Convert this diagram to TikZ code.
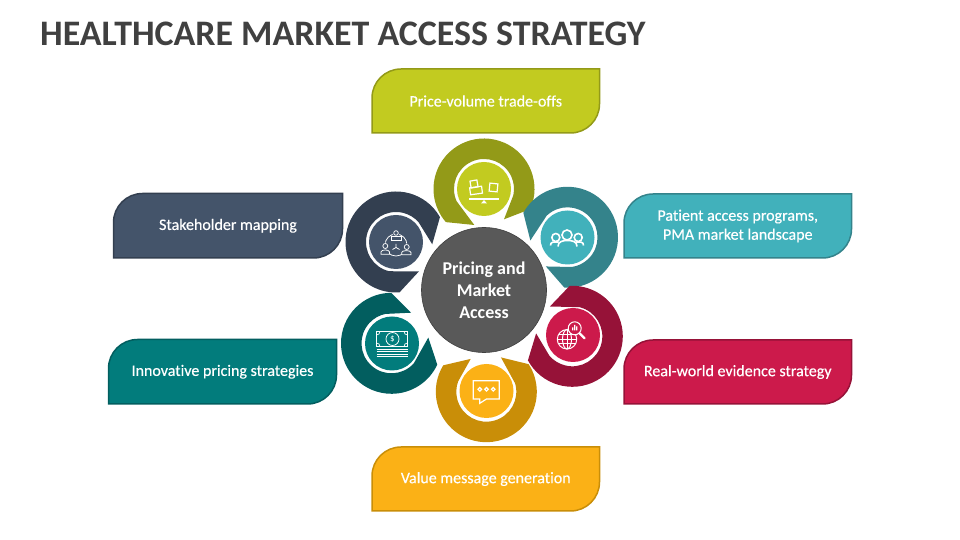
\documentclass[tikz,border=0pt]{standalone}
\usepackage{fontspec}
\setmainfont{Carlito}[Ligatures=NoCommon]
\definecolor{oliveD}{HTML}{939A18}
\definecolor{oliveL}{HTML}{C2CB20}
\definecolor{tealD}{HTML}{34838B}
\definecolor{tealL}{HTML}{41B1BB}
\definecolor{wineD}{HTML}{961238}
\definecolor{wineL}{HTML}{CC1A4B}
\definecolor{amberD}{HTML}{C98E08}
\definecolor{amberL}{HTML}{FBB116}
\definecolor{seaD}{HTML}{025E5F}
\definecolor{seaL}{HTML}{027C7C}
\definecolor{slateD}{HTML}{333F50}
\definecolor{slateL}{HTML}{44546A}
\tikzset{
  hub/.style={circle, fill=black!65, draw=black!75, line width=.6pt, minimum size=125pt, inner sep=0pt,
    text=white, align=center, font=\fontsize{18}{22}\selectfont\bfseries},
  disc/.style={circle, minimum size=54pt, inner sep=0pt},
  label/.style={text=white, align=center, font=\fontsize{16}{19}\selectfont\addfontfeature{FakeBold=0.4}},
  icon/.style={draw=white, line width=1.2pt},
}
% petale autour du centre
\newcommand{\petal}[4]{%
  \fill[#4, shift={(#1,#2)}, rotate=#3] (-23.5:50.5) arc (-23.5:221:50.5) -- (-9.7,-36)
    -- (204:30) arc (204:-12:30) -- (20,-30.3) -- cycle;
}
% cadre a deux coins arrondis
\newcommand{\bubble}[8]{%
  \draw[draw=#5, fill=#6, line width=1.5pt] (#1,#2) -- (#1,#4-29) arc (180:90:29) -- (#3,#4)
    -- (#3,#2+29) arc (0:-90:29) -- cycle;
  \node[label] (#7) at ({(#1+#3)/2},{(#2+#4)/2}) {#8};
}
\begin{document}
\begin{tikzpicture}[x=1pt,y=1pt]
  \useasboundingbox (0,0) rectangle (960,540);

  \node[anchor=base west, inner sep=0pt, text=black!75, font=\fontsize{35.9}{40}\selectfont\bfseries] (title) at (40,494)
    {HEALTHCARE MARKET ACCESS STRATEGY};

  % Cadres
  \bubble{372}{407}{599.5}{471}{oliveD}{oliveL}{boxtop}{Price-volume trade-offs}
  \bubble{624}{282}{851.5}{346}{tealD}{tealL}{boxru}{Patient access programs,\\PMA market landscape}
  \bubble{624}{136}{851.5}{200}{wineD}{wineL}{boxrd}{Real-world evidence strategy}
  \bubble{372}{29}{599.5}{93}{amberD}{amberL}{boxbot}{Value message generation}
  \bubble{108.5}{136}{336.5}{200.5}{seaD}{seaL}{boxld}{Innovative pricing strategies}
  \bubble{113.5}{282}{342.5}{346.5}{slateD}{slateL}{boxlu}{Stakeholder mapping}

  % Petales
  \petal{484}{351}{0}{oliveD}
  \petal{567.5}{302.7}{-70}{tealD}
  \petal{572.3}{203.7}{-128}{wineD}
  \petal{486.3}{148.3}{-188}{amberD}
  \petal{391.5}{196.7}{-246}{seaD}
  \petal{396}{298}{53}{slateD}

  \node[disc, fill=oliveL] (dtop) at (484,351) {};
  \node[disc, fill=tealL] (dru) at (567.5,302.5) {};
  \node[disc, fill=wineL] (drd) at (573,205) {};
  \node[disc, fill=amberL] (dbot) at (486.5,149) {};
  \node[disc, fill=seaL] (dld) at (392,196.5) {};
  \node[disc, fill=slateL] (dlu) at (396,298) {};

  \node[hub] (centre) at (484,250) {Pricing and\\Market\\Access};

  % Balance
  \begin{scope}[shift={(dtop)}]
    \draw[icon, rotate around={10:(-10,5)}] (-13.5,1.5) rectangle (-6.5,8.5);
    \draw[icon, rotate around={8:(-8,-1)}] (-14,-5) rectangle (-2,2);
    \draw[icon, rotate around={-6:(9.5,1.5)}] (5.5,-2.5) rectangle (13.5,5.5);
    \draw[icon, line width=1.4pt] (-15,-10) -- (15,-10);
    \fill[white] (0,-11) -- (-3,-14.5) -- (3,-14.5) -- cycle;
  \end{scope}

  % Trois personnes
  \begin{scope}[shift={(dru)}, icon/.append style={line width=1.6pt}]
    \draw[icon, fill=tealL] (-11.7,0) circle (4);
    \draw[icon, fill=tealL] (10.7,0) circle (4);
    \draw[icon] (-17,-8) .. controls (-17,-4) and (-14,-4.5) .. (-9,-4.5);
    \draw[icon] (16,-8) .. controls (16,-4) and (13,-4.5) .. (8,-4.5);
    \draw[icon, fill=tealL] (-9.5,-9) .. controls (-9.5,-4) and (-5,-3) .. (0,-3)
      .. controls (5,-3) and (9.5,-4) .. (9.5,-9);
    \draw[icon, fill=tealL] (-.5,2.5) circle (5);
  \end{scope}

  % Globe et loupe
  \begin{scope}[shift={(drd)}, icon/.append style={line width=1pt}]
    \draw[icon] (-6,-4.3) circle (9.7);
    \draw[icon] (-6,-4.3) ellipse (4.5 and 9.7);
    \draw[icon] (-6,-14) -- (-6,5.4);
    \draw[icon] (-15.7,-4.3) -- (3.7,-4.3);
    \draw[icon] (-14.5,.5) -- (2.5,.5);
    \draw[icon] (-14.5,-9) -- (2.5,-9);
    \draw[icon, fill=wineL] (1.7,6.7) circle (6.5);
    \draw[icon, line width=2.2pt, line cap=round] (6.5,1.7) -- (11.5,-3.3);
    \fill[white] (-.8,4.5) rectangle (.4,7.5) (1.2,4.5) rectangle (2.4,10) (3.2,4.5) rectangle (4.4,8.5);
  \end{scope}

  % Bulle
  \begin{scope}[shift={(dbot)}]
    \draw[icon] (-13.3,10.3) -- (12.7,10.3) -- (12.7,-8) -- (0,-8) -- (-6.7,-12.3) -- (-6.7,-8) -- (-13.3,-8) -- cycle;
    \foreach \dotx in {-6.7,0,6.7} {
      \draw[icon] (\dotx,1.7) circle (1.8);
    }
  \end{scope}

  % Billet
  \begin{scope}[shift={(dld)}, icon/.append style={line width=.75pt}]
    \draw[icon] (-15.5,12) rectangle (15.5,-3);
    \draw[icon] (.5,4.5) circle (6.5);
    \node[text=white, inner sep=0pt, font=\fontsize{9}{9}\selectfont] (dollar) at (.5,4.5) {\$};
    \draw[icon] (-15.5,8.5) arc (-90:0:3.5);
    \draw[icon] (15.5,8.5) arc (270:180:3.5);
    \draw[icon] (-15.5,.5) arc (90:0:3.5);
    \draw[icon] (15.5,.5) arc (90:180:3.5);
    \foreach \liney in {-5.5,-8,-10.5,-13} {
      \draw[icon] (-15.5,\liney) -- (15.5,\liney);
    }
  \end{scope}

  % Reseau de personnes
  \begin{scope}[shift={(dlu)}, icon/.append style={line width=.75pt}]
    \draw[icon] (0,-3) circle (11);
    \fill[slateL] (0,9) circle (3.5) (-10.7,-4) circle (3.5) (10.7,-5) circle (3.5);
    \fill[slateL] (-5,5.7) rectangle (5,1.7) (-15,-7.3) rectangle (-6.5,-12.3) (5.7,-8.3) rectangle (15,-12.7);
    \draw[icon] (0,9) circle (2.3);
    \draw[icon] (-5,5.7) rectangle (5,1.7);
    \draw[icon] (-10.7,-4) circle (2.5);
    \draw[icon] (-15,-12.3) -- (-15,-10) .. controls (-15,-7.3) and (-6.5,-7.3) .. (-6.5,-10) -- (-6.5,-12.3) -- cycle;
    \draw[icon] (10.7,-5) circle (2.5);
    \draw[icon] (5.7,-12.7) -- (5.7,-10.5) .. controls (5.7,-8) and (15,-8) .. (15,-10.5) -- (15,-12.7) -- cycle;
    \draw[icon] (0,-2) -- (0,-5.5) -- (-3.5,-7.5);
    \draw[icon] (0,-5.5) -- (3.5,-7.5);
  \end{scope}
\end{tikzpicture}
\end{document}
